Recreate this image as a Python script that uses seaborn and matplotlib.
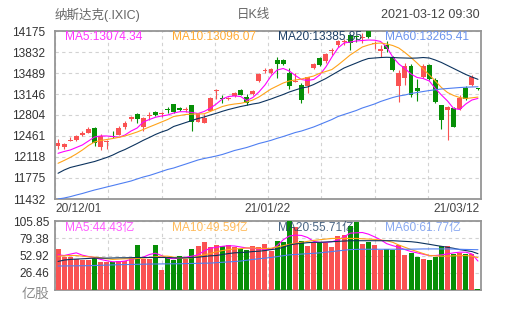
import matplotlib
matplotlib.use("Agg")
import matplotlib.pyplot as plt
import numpy as np
import seaborn as sns

title_left = "纳斯达克(.IXIC)"
title_mid = "日K线"
title_right = "2021-03-12 09:30"
date_labels = ["20/12/01", "21/01/22", "21/03/12"]
vol_unit = "亿股"

opens = [12297, 12276, 12378, 12395, 12472, 12515, 12591, 12276, 12362, 12446,
         12482, 12603, 12733, 12820, 12603, 12792, 12852, 12814, 12885, 12983,
         12918, 12885, 12962, 12694, 12678, 12874, 13190, 13068, 13065, 13114,
         13217, 13092, 13146, 13363, 13520, 13485, 13701, 13701, 13494, 13340,
         13293, 13277, 13566, 13730, 13690, 13850, 13940, 14000, 14110, 14078,
         14060, 14170, 13963, 13853, 13951, 13755, 13277, 13403, 13604, 13240,
         13430, 13620, 13375, 12967, 12880, 12913, 12896, 13240, 13293, 13228]
closes = [12351, 12330, 12384, 12461, 12515, 12580, 12341, 12461, 12384, 12439,
          12591, 12678, 12776, 12743, 12754, 12798, 12798, 12820, 12880, 12852,
          12880, 12890, 12689, 12831, 12750, 13076, 13200, 13060, 13076, 13158,
          13135, 12995, 13200, 13473, 13527, 13550, 13636, 13636, 13277, 13347,
          13048, 13419, 13636, 13620, 13800, 13860, 14012, 14017, 13975, 14072,
          14072, 14072, 13980, 13886, 13886, 13538, 13484, 13604, 13130, 13200,
          13604, 13386, 13020, 12722, 12929, 12612, 13076, 13060, 13419, 13224]
highs = [12407, 12351, 12439, 12471, 12547, 12612, 12612, 12493, 12395, 12537,
         12624, 12710, 12787, 12831, 12766, 12852, 12863, 12852, 12929, 12990,
         12929, 12929, 12962, 12841, 12820, 13090, 13223, 13130, 13098, 13185,
         13223, 13147, 13212, 13494, 13566, 13575, 13755, 13723, 13566, 13485,
         13330, 13430, 13660, 13755, 13815, 13897, 14028, 14050, 14130, 14115,
         14143, 14175, 14006, 13942, 14006, 13770, 13538, 13648, 13636, 13386,
         13636, 13640, 13403, 12967, 12950, 12929, 13125, 13273, 13457, 13240]
lows = [12244, 12244, 12378, 12384, 12461, 12505, 12297, 12227, 12253, 12435,
        12472, 12580, 12710, 12668, 12537, 12722, 12787, 12776, 12841, 12841,
        12874, 12852, 12547, 12694, 12678, 12874, 13060, 12995, 13043, 13103,
        13130, 12967, 13130, 13347, 13485, 13480, 13403, 13620, 13223, 13337,
        13000, 13158, 13550, 13600, 13660, 13788, 13918, 13950, 13870, 13995,
        13980, 14060, 13886, 13745, 13837, 13530, 13020, 13293, 13103, 13037,
        13410, 13370, 13004, 12570, 12395, 12603, 12880, 13043, 13277, 13210]

ma5 = [12178, 12208, 12232, 12273, 12314, 12379, 12444, 12461, 12461, 12452,
       12439, 12477, 12542, 12591, 12689, 12730, 12766, 12787, 12803, 12836,
       12857, 12857, 12844, 12828, 12861, 12913, 12983, 13065, 13106, 13114,
       13106, 13040, 13089, 13179, 13293, 13440, 13538, 13563, 13522, 13448,
       13383, 13367, 13383, 13457, 13587, 13750, 13897, 13979, 13995, 14012,
       14020, 14028, 14025, 14004, 13914, 13750, 13636, 13563, 13473, 13416,
       13399, 13359, 13236, 13130, 13032, 12910, 12893, 12983, 13048, 13074]
ma10 = [12015, 12061, 12110, 12167, 12232, 12305, 12363, 12387, 12403, 12420,
        12439, 12461, 12493, 12526, 12567, 12608, 12648, 12689, 12730, 12779,
        12795, 12812, 12817, 12820, 12823, 12861, 12901, 12942, 12967, 12983,
        12994, 13016, 13048, 13097, 13163, 13228, 13277, 13326, 13359, 13375,
        13391, 13416, 13440, 13484, 13514, 13546, 13620, 13701, 13783, 13848,
        13914, 13946, 13971, 13979, 13963, 13938, 13897, 13824, 13742, 13652,
        13555, 13457, 13359, 13252, 13171, 13122, 13089, 13073, 13084, 13096]
ma20 = [11852, 11905, 11946, 11971, 11995, 12020, 12044, 12077, 12110, 12150,
        12199, 12240, 12289, 12338, 12390, 12436, 12485, 12526, 12559, 12616,
        12648, 12681, 12714, 12746, 12771, 12803, 12831, 12864, 12893, 12918,
        12942, 12962, 12983, 12999, 13032, 13065, 13102, 13138, 13179, 13212,
        13244, 13261, 13301, 13350, 13399, 13457, 13514, 13571, 13612, 13652,
        13693, 13726, 13734, 13742, 13746, 13742, 13737, 13734, 13731, 13734,
        13742, 13734, 13701, 13661, 13612, 13563, 13514, 13465, 13424, 13386]
ma60 = [11432, 11448, 11470, 11497, 11522, 11551, 11579, 11603, 11628, 11652,
        11677, 11701, 11726, 11759, 11791, 11816, 11848, 11881, 11914, 11938,
        11971, 12003, 12036, 12069, 12093, 12113, 12134, 12159, 12191, 12224,
        12248, 12273, 12305, 12338, 12363, 12390, 12423, 12452, 12485, 12518,
        12542, 12575, 12608, 12648, 12689, 12730, 12779, 12812, 12844, 12877,
        12918, 12950, 12983, 13024, 13057, 13089, 13114, 13130, 13155, 13171,
        13187, 13203, 13216, 13228, 13236, 13244, 13252, 13257, 13261, 13265]

volumes = [62.5, 50.5, 50.5, 48, 45.3, 45.3, 49.5, 42.2, 42.2, 42.2,
           44.3, 44.3, 49, 68.8, 46.9, 48, 68.8, 31.3, 48.5, 45.3,
           52, 46.9, 62.5, 67.7, 73, 65.2, 68.8, 67.7, 68.8, 66.2,
           62.5, 61, 67.7, 65.2, 70.4, 60, 75, 74, 106, 97.4,
           74.5, 67.7, 71.4, 73, 71.4, 66, 83, 84.9, 98, 104,
           70.9, 73.5, 69.3, 61.5, 63, 61.5, 69.3, 53.6, 56.8, 51.1,
           47.4, 45.8, 51.1, 67.2, 67.2, 55.2, 56.8, 55.2, 55.2, 1.5]
vol_ma5 = [53.9, 52.9, 55.0, 57.0, 53.4, 51.4, 49.9, 46.9, 44.9, 43.3,
           43.3, 44.4, 46.9, 48.4, 50.4, 54.4, 56.4, 52.9, 48.9, 47.9,
           48.9, 50.4, 51.9, 53.9, 60.0, 64.0, 65.5, 67.0, 68.0, 67.5,
           66.0, 64.5, 64.0, 63.0, 62.5, 62.0, 68.0, 77.0, 82.7, 84.2,
           83.7, 80.6, 74.6, 73.1, 73.1, 74.1, 76.6, 81.6, 87.2, 87.7,
           88.2, 85.7, 81.6, 77.1, 71.1, 68.0, 65.5, 62.0, 59.0, 57.0,
           54.9, 52.9, 52.9, 53.9, 55.4, 57.0, 58.0, 58.0, 55.4, 44.4]
vol_ma10 = [51.9, 52.4, 52.9, 52.9, 51.9, 50.9, 50.4, 49.4, 47.9, 46.9,
            47.4, 47.9, 47.9, 48.4, 48.9, 49.9, 50.9, 51.9, 51.9, 50.4,
            48.9, 48.9, 49.4, 51.9, 53.9, 55.9, 58.5, 60.5, 62.0, 63.0,
            63.5, 64.5, 64.5, 64.0, 63.5, 64.0, 66.0, 68.0, 70.0, 71.6,
            73.1, 74.6, 76.1, 77.1, 78.1, 79.1, 79.1, 79.1, 79.1, 79.1,
            78.6, 78.1, 77.6, 76.6, 75.6, 73.1, 69.0, 65.5, 62.0, 59.0,
            55.9, 52.9, 52.4, 51.9, 51.9, 52.4, 52.9, 52.9, 51.9, 49.6]
vol_ma20 = [43.8, 45.9, 46.9, 47.4, 47.9, 48.4, 48.9, 48.9, 48.9, 49.1,
            49.4, 49.4, 49.6, 49.9, 49.9, 49.9, 49.9, 49.9, 49.9, 49.4,
            49.1, 49.4, 49.9, 50.4, 51.4, 52.4, 52.9, 54.4, 55.9, 57.0,
            57.5, 58.0, 59.0, 59.5, 60.5, 62.0, 63.0, 65.5, 69.0, 70.6,
            71.6, 72.6, 73.1, 73.1, 73.6, 74.1, 74.6, 75.1, 75.6, 75.6,
            75.6, 75.6, 75.6, 75.6, 75.6, 75.6, 75.1, 74.6, 74.1, 73.1,
            71.6, 70.1, 68.5, 67.0, 65.5, 64.0, 62.0, 60.5, 59.0, 55.7]
vol_ma60 = [36.8, 36.9, 37.0, 37.1, 37.2, 37.3, 37.6, 37.9, 38.2, 38.5,
            38.8, 39.0, 39.2, 39.4, 39.6, 39.8, 39.9, 40.0, 40.1, 40.2,
            40.3, 40.5, 40.7, 40.9, 41.1, 41.3, 41.9, 42.5, 43.1, 43.7,
            44.4, 45.6, 46.9, 47.9, 48.9, 49.9, 51.2, 52.6, 53.9, 54.5,
            55.1, 55.7, 56.3, 57.0, 58.0, 59.0, 60.0, 61.0, 62.0, 62.3,
            62.5, 62.5, 62.5, 62.5, 62.5, 62.5, 62.5, 62.5, 62.6, 62.8,
            63.0, 63.0, 63.0, 63.0, 63.0, 62.8, 62.5, 62.2, 62.0, 61.8]

price_ticks = [11432, 11775, 12118, 12461, 12804, 13146, 13489, 13832, 14175]
vol_ticks = [0, 26.46, 52.92, 79.38, 105.85]
vol_tick_labels = ["", "26.46", "52.92", "79.38", "105.85"]

ma_names = ["MA5", "MA10", "MA20", "MA60"]
ma_colors = ["#ff00ff", "#ffa31a", "#0c335e", "#4f7ff2"]
ma_text_colors = ["#ff33ff", "#ffaa33", "#1d3f66", "#6b93ee"]

RED = "#fa5252"
GREEN = "#068f06"
GRID = "#d2d2d2"
FRAME = "#959595"

sns.set_style("white")
plt.rcParams["font.family"] = ["Liberation Sans", "Noto Sans CJK SC", "DejaVu Sans"]

W, H = 505, 310
fig = plt.figure(figsize=(W / 100, H / 100), dpi=100)
ax = fig.add_axes([55 / W, 1 - 199 / H, 426 / W, 168 / H])
axv = fig.add_axes([55 / W, 1 - 290 / H, 426 / W, 69 / H])

o = np.array(opens, dtype=float)
c = np.array(closes, dtype=float)
hi = np.array(highs, dtype=float)
lo = np.array(lows, dtype=float)
x = np.arange(len(o))
colors = [RED if cc >= oo else GREEN for oo, cc in zip(o, c)]

# candles
ax.vlines(x, lo, hi, colors=colors, linewidth=0.8, zorder=3)
body_bottom = np.minimum(o, c)
body_height = np.maximum(np.abs(c - o), 14)
ax.bar(x, body_height, bottom=body_bottom, width=0.8, color=colors, linewidth=0, zorder=3)

for ma, col in zip([ma5, ma10, ma20, ma60], ma_colors):
    sns.lineplot(x=x, y=ma, ax=ax, color=col, linewidth=0.8, legend=False, zorder=4)

# volume
axv.bar(x, volumes, width=0.82, color=colors, linewidth=0, zorder=3)
for ma, col in zip([vol_ma5, vol_ma10, vol_ma20, vol_ma60], ma_colors):
    sns.lineplot(x=x, y=ma, ax=axv, color=col, linewidth=0.8, legend=False, zorder=4)

grid_x = np.arange(9) * 70 / 8 - 0.5
for a in (ax, axv):
    a.set_xlim(-0.5, 69.5)
    a.set_xticks(grid_x)
    a.set_xticklabels([])
    a.set_xlabel("")
    a.set_ylabel("")
    a.grid(True, linestyle=(0, (3, 3)), color=GRID, linewidth=0.8, zorder=0)
    a.set_axisbelow(True)
    a.tick_params(length=0, labelsize=8.6, labelcolor="#333333")
    for s in a.spines.values():
        s.set_color(FRAME)
        s.set_linewidth(1.3)
        s.set_visible(True)

ax.set_ylim(11432, 14175)
ax.set_yticks(price_ticks)
ax.set_yticklabels([str(t) for t in price_ticks])
ax.tick_params(axis="y", pad=7)

axv.set_ylim(0, 105.85)
axv.set_yticks(vol_ticks)
axv.set_yticklabels(vol_tick_labels)
axv.tick_params(axis="y", pad=4)
fig.text(49 / W, 1 - 294 / H, vol_unit, ha="right", va="center", fontsize=10, color="#8a8a8a")

# header
fig.text(55 / W, 1 - 15 / H, title_left, ha="left", va="center", fontsize=9, color="#666666")
fig.text(253 / W, 1 - 15 / H, title_mid, ha="center", va="center", fontsize=9, color="#666666")
fig.text(480 / W, 1 - 15 / H, title_right, ha="right", va="center", fontsize=9, color="#444444")

# date labels
fig.text(55 / W, 1 - 209 / H, date_labels[0], ha="left", va="center", fontsize=8.6, color="#444444")
fig.text(268 / W, 1 - 209 / H, date_labels[1], ha="center", va="center", fontsize=8.6, color="#444444")
fig.text(480 / W, 1 - 209 / H, date_labels[2], ha="right", va="center", fontsize=8.6, color="#444444")

# MA captions
price_last_txt = ["13074.34", "13096.07", "13385.85", "13265.41"]
vol_last_txt = ["44.43", "49.59", "55.71", "61.77"]
for k in range(4):
    px = (65 + k * 106.7) / W
    fig.text(px, 1 - 37 / H, f"{ma_names[k]}:{price_last_txt[k]}", ha="left", va="center",
             fontsize=8.6, color=ma_text_colors[k], zorder=10)
    fig.text(px, 1 - 228 / H, f"{ma_names[k]}:{vol_last_txt[k]}亿", ha="left", va="center",
             fontsize=8.6, color=ma_text_colors[k], alpha=0.8, zorder=10)

fig.savefig("out.png", dpi=100, facecolor="white")
